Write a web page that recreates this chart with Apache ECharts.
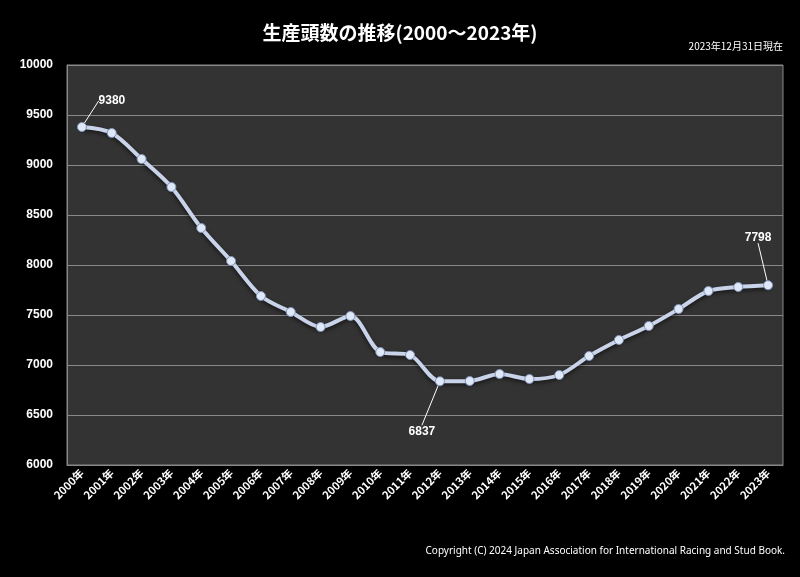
<!DOCTYPE html>
<html><head><meta charset="utf-8">
<script src="https://cdn.jsdelivr.net/npm/echarts@6/dist/echarts.min.js"></script>
<style>html,body{margin:0;background:#000}#c{width:800px;height:577px}</style>
</head><body><div id="c"></div>
<script>
var years = ['2000年','2001年','2002年','2003年','2004年','2005年','2006年','2007年','2008年','2009年','2010年','2011年','2012年','2013年','2014年','2015年','2016年','2017年','2018年','2019年','2020年','2021年','2022年','2023年'];
var counts = [9380,9320,9060,8780,8370,8040,7690,7530,7380,7490,7130,7100,6837,6840,6910,6860,6900,7090,7250,7390,7560,7740,7780,7798];
// label offsets (dx, dy) for the annotated points
var labelled = {0: [30, -26], 12: [-18, 50], 23: [-10, -48]};

var chart = echarts.init(document.getElementById('c'));
chart.setOption({
    backgroundColor: '#000',
    animation: false,
    title: [{
        text: '生産頭数の推移(2000〜2023年)', left: 'center', top: 18,
        textStyle: {color: '#fff', fontSize: 19, fontWeight: 'bold', fontFamily: 'Noto Sans CJK JP'}
    }, {
        text: '2023年12月31日現在', right: 12, top: 36,
        textStyle: {color: '#fff', fontSize: 10, fontWeight: 'normal', fontFamily: 'Noto Sans CJK JP'}
    }, {
        text: 'Copyright (C) 2024 Japan Association for International Racing and Stud Book.', right: 10, bottom: 16,
        textStyle: {color: '#fff', fontSize: 10, fontWeight: 'normal', fontFamily: 'Noto Sans'}
    }],
    grid: {left: 67, right: 17, top: 65, bottom: 112, show: true, backgroundColor: '#333', borderColor: '#888', borderWidth: 1},
    xAxis: {
        type: 'category', data: years, boundaryGap: true,
        axisLine: {lineStyle: {color: '#888'}},
        axisTick: {show: false},
        axisLabel: {color: '#fff', rotate: 45, fontSize: 11, fontWeight: 'bold', interval: 0, margin: 6, fontFamily: 'Noto Sans CJK JP'}
    },
    yAxis: {
        type: 'value', min: 6000, max: 10000, interval: 500,
        axisLine: {show: true, lineStyle: {color: '#888'}},
        axisLabel: {color: '#fff', fontSize: 12, fontWeight: 'bold', margin: 14, formatter: function (v) { return String(v); }},
        splitLine: {lineStyle: {color: '#888'}}
    },
    series: [{
        type: 'line', smooth: 0.3,
        data: counts.map(function (v, i) {
            var d = {value: v};
            if (labelled[i]) d.label = {show: true, position: 'inside'};
            return d;
        }),
        lineStyle: {color: '#c9d4ea', width: 4, shadowColor: 'rgba(0,0,0,0.6)', shadowBlur: 4, shadowOffsetY: 2},
        symbol: 'circle', symbolSize: 9,
        itemStyle: {color: '#dfe8f7', borderColor: '#7f92b8', borderWidth: 1},
        label: {color: '#fff', fontSize: 12, fontWeight: 'bold'},
        labelLine: {show: true, lineStyle: {color: '#fff', width: 1}},
        labelLayout: function (p) {
            var o = labelled[p.dataIndex];
            return o ? {dx: o[0], dy: o[1]} : {};
        }
    }]
});
</script></body></html>
